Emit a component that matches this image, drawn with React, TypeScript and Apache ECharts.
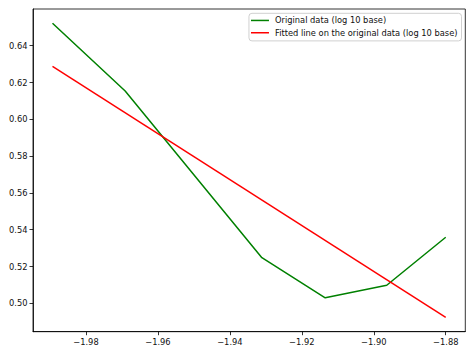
import React, { useEffect, useRef } from "react";
import * as echarts from "echarts";

const logX = [-1.9893, -1.9691, -1.9311, -1.9135, -1.8964, -1.88];
const logY = [0.6522, 0.6154, 0.5248, 0.503, 0.5098, 0.5359];
const fitX = [-1.9893, -1.88];
const fitY = [0.6288, 0.4924];
const xTicks = [-1.98, -1.96, -1.94, -1.92, -1.9, -1.88];
const yTicks = [0.5, 0.52, 0.54, 0.56, 0.58, 0.6, 0.62, 0.64];
const seriesNames = [
  "Original data (log 10 base)",
  "Fitted line on the original data (log 10 base)",
];

const fmt = (v: number) => v.toFixed(2).replace("-", "\u2212");

export default function App() {
  const ref = useRef<HTMLDivElement>(null);
  useEffect(() => {
    if (!ref.current) return;
    const chart = echarts.init(ref.current, null, { renderer: "svg" });
    const font = "DejaVu Sans";
    const fs = 8.3;
    chart.setOption({
      animation: false,
      textStyle: { fontFamily: font },
      grid: {
        left: 33,
        top: 9,
        right: 8.7,
        bottom: 23.3,
        show: true,
        borderColor: "#000",
        borderWidth: 0.8,
        backgroundColor: "transparent",
      },
      legend: {
        orient: "vertical",
        right: 12.5,
        top: 13.3,
        data: seriesNames,
        icon: "rect",
        itemWidth: 18,
        itemHeight: 1.5,
        itemGap: 0,
        padding: [1, 4, 2, 2],
        borderColor: "#d0d0d0",
        borderWidth: 1,
        borderRadius: 3,
        backgroundColor: "#fff",
        textStyle: { fontFamily: font, fontSize: fs, color: "#111", lineHeight: 12.3, padding: [0, 0, 0, 1] },
      },
      xAxis: {
        type: "value",
        min: -1.99472,
        max: -1.87456,
        axisLine: { show: true, onZero: false, lineStyle: { color: "#000", width: 0.8 } },
        axisTick: { show: true, length: 3.5, customValues: xTicks, lineStyle: { color: "#000", width: 0.8 } },
        axisLabel: { customValues: xTicks, formatter: fmt, margin: 6, fontFamily: font, fontSize: fs, color: "#111" },
        splitLine: { show: false },
      },
      yAxis: {
        type: "value",
        min: 0.48457,
        max: 0.65995,
        axisLine: { show: true, onZero: false, lineStyle: { color: "#000", width: 0.8 } },
        axisTick: { show: true, length: 3.5, customValues: yTicks, lineStyle: { color: "#000", width: 0.8 } },
        axisLabel: { customValues: yTicks, formatter: fmt, margin: 5.5, fontFamily: font, fontSize: fs, color: "#111" },
        splitLine: { show: false },
      },
      series: [
        {
          name: seriesNames[0],
          type: "line",
          data: logX.map((x, i) => [x, logY[i]]),
          symbol: "none",
          itemStyle: { color: "#008000" },
          lineStyle: { color: "#008000", width: 1.5 },
        },
        {
          name: seriesNames[1],
          type: "line",
          data: fitX.map((x, i) => [x, fitY[i]]),
          symbol: "none",
          itemStyle: { color: "#ff0000" },
          lineStyle: { color: "#ff0000", width: 1.5 },
        },
      ],
    });
    return () => chart.dispose();
  }, []);
  return <div ref={ref} style={{ width: 474, height: 355, position: "absolute", left: 0, top: 0 }} />;
}
